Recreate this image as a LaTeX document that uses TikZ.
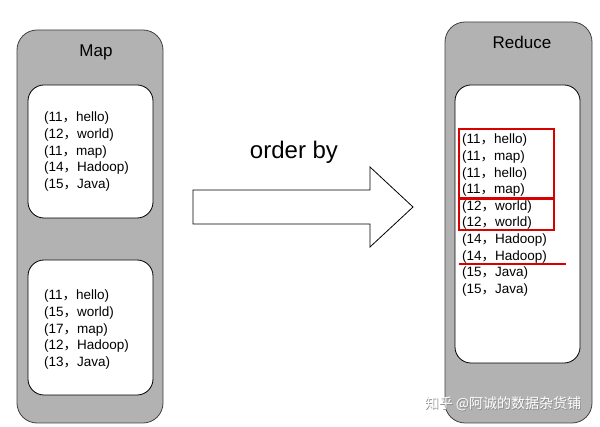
\documentclass[tikz,border=0pt]{standalone}
\usepackage{fontspec}
\setmainfont{Liberation Sans}
\newfontfamily\cjk{Noto Sans CJK SC}
\newcommand{\cc}{{\cjk ，}}
\begin{document}
\begin{tikzpicture}[x=1pt,y=-1pt,
  outer/.style={draw=black!75,fill=black!30,rounded corners=20pt,line width=0.8pt},
  inner/.style={draw=black,fill=white,rounded corners=16pt,line width=0.8pt},
  lst/.style={font=\fontsize{13.5}{16.6}\selectfont,align=left,anchor=north west,inner sep=0pt},
  redbox/.style={draw=red!85!black,line width=1.3pt}]
\useasboundingbox (0,0) rectangle (600,427);
\draw[outer] (17,30) rectangle (163,423);
\node (map) at (96,52) {\fontsize{17}{18}\selectfont Map};
\draw[inner] (28,85) rectangle (153,218);
\draw[inner] (28,260) rectangle (153,395);
\node[lst] (l1) at (44,112) {(11\cc hello)\\(12\cc world)\\(11\cc map)\\(14\cc Hadoop)\\(15\cc Java)};
\node[lst] (l2) at (44,290) {(11\cc hello)\\(15\cc world)\\(17\cc map)\\(12\cc Hadoop)\\(13\cc Java)};
\draw[line width=0.8pt,fill=white] (193,190) -- (370,190) -- (370,167) -- (413,207) -- (370,247) -- (370,224) -- (193,224) -- cycle;
\node (ob) at (294,152) {\fontsize{24}{26}\selectfont order by};
\draw[outer] (445,22) rectangle (592,423);
\node (red) at (522,42) {\fontsize{17}{18}\selectfont Reduce};
\draw[inner] (455,85) rectangle (580,363);
\node[lst] (l3) at (462,134) {(11\cc hello)\\(11\cc map)\\(11\cc hello)\\(11\cc map)\\(12\cc world)\\(12\cc world)\\(14\cc Hadoop)\\(14\cc Hadoop)\\(15\cc Java)\\(15\cc Java)};
\draw[redbox] (459,129) rectangle (554,198);
\draw[redbox] (459,199) rectangle (554,230);
\draw[redbox] (459,264) -- (566,264);
\node[text=black!45] (wms) at (503.7,404.7) {\cjk\fontsize{14}{16}\selectfont 知乎 @阿诚的数据杂货铺};
\node[text=white] (wm) at (503,404) {\cjk\fontsize{14}{16}\selectfont 知乎 @阿诚的数据杂货铺};
\end{tikzpicture}
\end{document}
